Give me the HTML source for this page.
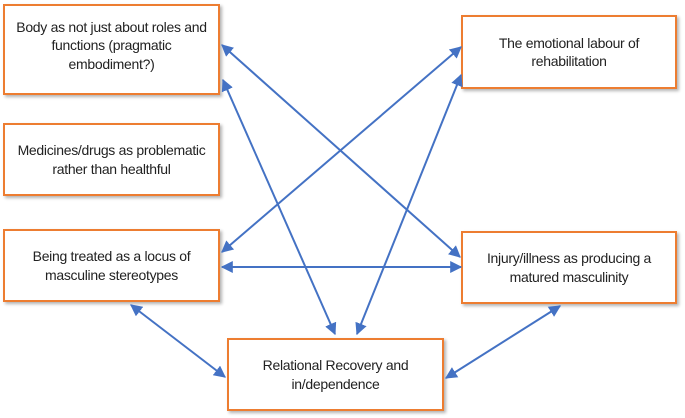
<!DOCTYPE html>
<html><head><style>
body{margin:0;width:685px;height:418px;background:#fff;position:relative;overflow:hidden;font-family:"Liberation Sans",sans-serif}
.b{position:absolute;box-sizing:border-box;border:2px solid #ED7D31;background:#fff;box-shadow:2px 2px 3px rgba(0,0,0,0.3);display:flex;align-items:center;justify-content:center;text-align:center;font-size:14px;line-height:18.5px;color:#222;letter-spacing:-0.3px;white-space:nowrap}
svg{position:absolute;left:0;top:0}
</style></head><body>
<div class="b" style="left:3px;top:4px;width:217px;height:91px;padding-bottom:8px">Body as not just about roles and<br>functions (pragmatic<br>embodiment?)</div>
<div class="b" style="left:461px;top:15px;width:216px;height:74px">The emotional labour of<br>rehabilitation</div>
<div class="b" style="left:3px;top:123px;width:217px;height:73px">Medicines/drugs as problematic<br>rather than healthful</div>
<div class="b" style="left:3px;top:229px;width:217px;height:73px">Being treated as a locus of<br>masculine stereotypes</div>
<div class="b" style="left:461px;top:231px;width:216px;height:73px">Injury/illness as producing a<br>matured masculinity</div>
<div class="b" style="left:227px;top:338px;width:217px;height:73px">Relational Recovery and<br>in/dependence</div>
<svg width="685" height="418">
<defs><marker id="a" viewBox="0 0 10 10" refX="9" refY="5" markerWidth="6" markerHeight="6" orient="auto-start-reverse"><path d="M0 0L10 5L0 10z" fill="#4472C4"/></marker></defs>
<g stroke="#4472C4" stroke-width="2" marker-start="url(#a)" marker-end="url(#a)">
<line x1="222" y1="45" x2="460" y2="257"/>
<line x1="223" y1="80" x2="335" y2="334"/>
<line x1="222" y1="252" x2="461" y2="47"/>
<line x1="357" y1="334" x2="461" y2="75"/>
<line x1="222" y1="267" x2="461" y2="267"/>
<line x1="131" y1="305" x2="225" y2="377"/>
<line x1="446" y1="378" x2="560" y2="306"/>
</g></svg>
</body></html>
